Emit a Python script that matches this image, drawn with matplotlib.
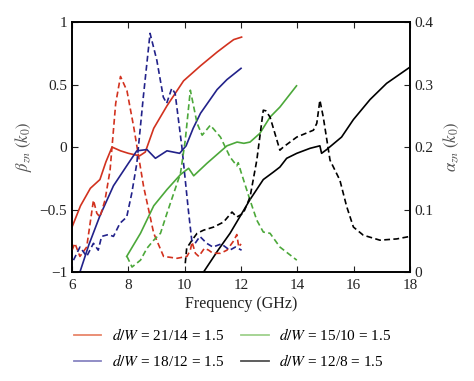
import matplotlib
matplotlib.use("Agg")
import matplotlib.pyplot as plt
from matplotlib.lines import Line2D

plt.rcParams["font.family"] = ["Liberation Serif", "DejaVu Serif"]
plt.rcParams["mathtext.fontset"] = "stix"

# beta_zn (solid, left axis)
f_red = [6.0, 6.3, 6.65, 6.99, 7.2, 7.42, 7.72, 8.0, 8.19, 8.4, 8.6, 8.9, 9.37, 9.96, 10.56, 11.15, 11.5, 11.74, 12.02]
b_red = [-0.64, -0.47, -0.33, -0.26, -0.12, 0.0, -0.03, -0.05, -0.06, -0.07, -0.04, 0.15, 0.33, 0.53, 0.65, 0.76, 0.82, 0.86, 0.88]

f_blue = [6.28, 6.6, 6.99, 7.47, 8.0, 8.3, 8.66, 8.96, 9.37, 9.82, 10.05, 10.3, 10.56, 11.15, 11.5, 12.0]
b_blue = [-1.0, -0.78, -0.55, -0.31, -0.13, -0.03, -0.02, -0.09, -0.03, -0.05, 0.01, 0.15, 0.27, 0.46, 0.54, 0.63]

f_green = [7.94, 8.43, 8.9, 9.37, 9.85, 10.02, 10.14, 10.32, 10.79, 11.5, 11.86, 12.1, 12.32, 12.67, 13.03, 13.38, 13.97]
b_green = [-0.875, -0.69, -0.47, -0.34, -0.22, -0.19, -0.17, -0.23, -0.13, 0.01, 0.04, 0.03, 0.04, 0.11, 0.24, 0.32, 0.49]

f_black = [10.67, 11.2, 11.61, 12.32, 12.79, 13.15, 13.38, 13.62, 13.98, 14.45, 14.8, 14.86, 15.04, 15.57, 15.99, 16.58, 17.17, 18.0]
b_black = [-1.0, -0.82, -0.69, -0.42, -0.26, -0.2, -0.16, -0.09, -0.05, -0.01, 0.01, -0.05, -0.02, 0.08, 0.22, 0.38, 0.51, 0.64]

# alpha_zn (dashed, right axis)
fa_red = [6.0, 6.1, 6.28, 6.52, 6.76, 6.88, 6.99, 7.17, 7.35, 7.55, 7.72, 7.95, 8.19, 8.54, 8.9, 9.25, 9.73, 10.08, 10.2, 10.26, 10.38, 10.5, 10.7, 10.85, 11.0, 11.27, 11.5, 11.74, 11.85, 11.92, 12.0]
a_red = [0.035, 0.046, 0.025, 0.04, 0.115, 0.094, 0.088, 0.115, 0.163, 0.27, 0.313, 0.29, 0.232, 0.137, 0.062, 0.025, 0.022, 0.025, 0.035, 0.048, 0.03, 0.025, 0.038, 0.035, 0.03, 0.03, 0.035, 0.05, 0.06, 0.04, 0.045]

fa_blue = [6.05, 6.28, 6.52, 6.76, 6.93, 7.05, 7.29, 7.47, 7.7, 7.94, 8.12, 8.3, 8.53, 8.77, 9.01, 9.24, 9.36, 9.54, 9.66, 9.9, 10.13, 10.25, 10.37, 10.54, 10.78, 11.0, 11.3, 11.6, 11.8, 12.02]
a_blue = [0.019, 0.04, 0.025, 0.046, 0.035, 0.057, 0.06, 0.057, 0.078, 0.088, 0.126, 0.174, 0.28, 0.382, 0.339, 0.28, 0.27, 0.294, 0.286, 0.2, 0.099, 0.051, 0.046, 0.057, 0.046, 0.04, 0.045, 0.035, 0.04, 0.035]

fa_green = [7.95, 8.13, 8.43, 8.66, 8.9, 9.14, 9.37, 9.61, 9.85, 10.02, 10.2, 10.44, 10.62, 10.91, 11.27, 11.61, 11.85, 11.9, 12.0, 12.32, 12.56, 12.79, 13.03, 13.38, 13.98]
a_green = [0.025, 0.008, 0.019, 0.038, 0.051, 0.062, 0.094, 0.126, 0.158, 0.211, 0.291, 0.238, 0.219, 0.235, 0.216, 0.184, 0.17, 0.175, 0.16, 0.115, 0.083, 0.064, 0.062, 0.04, 0.019]

fa_black = [10.02, 10.07, 10.26, 10.44, 10.67, 11.03, 11.38, 11.68, 11.85, 12.08, 12.32, 12.56, 12.79, 12.88, 13.03, 13.38, 13.5, 13.98, 14.57, 14.69, 14.8, 14.92, 15.16, 15.51, 15.75, 15.99, 16.34, 16.93, 17.53, 18.0]
a_black = [0.014, 0.038, 0.051, 0.062, 0.067, 0.072, 0.08, 0.096, 0.088, 0.094, 0.12, 0.179, 0.259, 0.258, 0.248, 0.195, 0.2, 0.216, 0.227, 0.238, 0.275, 0.248, 0.179, 0.147, 0.105, 0.072, 0.059, 0.051, 0.053, 0.057]

colors = ["#d2321f", "#22228a", "#4ca83a", "#000000"]
legend_colors = ["#e8866a", "#8885c2", "#9fd18c", "#505050"]
labels = [r"$d/W$ = 21/14 = 1.5", r"$d/W$ = 18/12 = 1.5",
          r"$d/W$ = 15/10 = 1.5", r"$d/W$ = 12/8 = 1.5"]

fig = plt.figure(figsize=(4.74, 3.81), dpi=100)
ax = fig.add_axes([0.152, 0.286, 0.713, 0.656])
ax2 = ax.twinx()

solid = [(f_red, b_red), (f_blue, b_blue), (f_green, b_green), (f_black, b_black)]
dashed = [(fa_red, a_red), (fa_blue, a_blue), (fa_green, a_green), (fa_black, a_black)]
for (x, y), c in zip(solid, colors):
    ax.plot(x, y, color=c, lw=1.2)
for (x, y), c in zip(dashed, colors):
    ax2.plot(x, y, color=c, lw=1.2, linestyle=(0, (3.5, 2)))

ax.set_xlim(6, 18)
ax.set_ylim(-1, 1)
ax2.set_ylim(0, 0.4)
ax.set_xticks([6, 8, 10, 12, 14, 16, 18])
ax.set_yticks([-1, -0.5, 0, 0.5, 1])
ax.set_yticklabels(["\u22121", "\u22120.5", "0", "0.5", "1"])
ax2.set_yticks([0, 0.1, 0.2, 0.3, 0.4])
ax2.set_yticklabels(["0", "0.1", "0.2", "0.3", "0.4"])

ax.tick_params(direction="in", top=True, length=4, labelsize=11, colors="#222222")
ax.tick_params(axis="x", pad=5)
ax2.tick_params(direction="in", length=4, labelsize=11, colors="#222222")
for a in (ax, ax2):
    for s in a.spines.values():
        s.set_linewidth(1.2)

ax.set_xlabel("Frequency (GHz)", fontsize=11.5, color="#222222", labelpad=3)
ax.set_ylabel(r"$\beta_{zn}\ (k_0)$", fontsize=12, color="#555555", labelpad=4)
ax2.set_ylabel(r"$\alpha_{zn}\ (k_0)$", fontsize=12, color="#555555", labelpad=6)

handles = [Line2D([0], [0], color=c, lw=1.3, label=l) for c, l in zip(legend_colors, labels)]
fig.legend(handles=handles, ncol=2, frameon=False, loc="upper left",
           bbox_to_anchor=(0.14, 0.162), fontsize=11, handlelength=1.8,
           handletextpad=0.7, columnspacing=1.1, labelspacing=0.65, borderpad=0)

fig.savefig("out.png", dpi=100)
